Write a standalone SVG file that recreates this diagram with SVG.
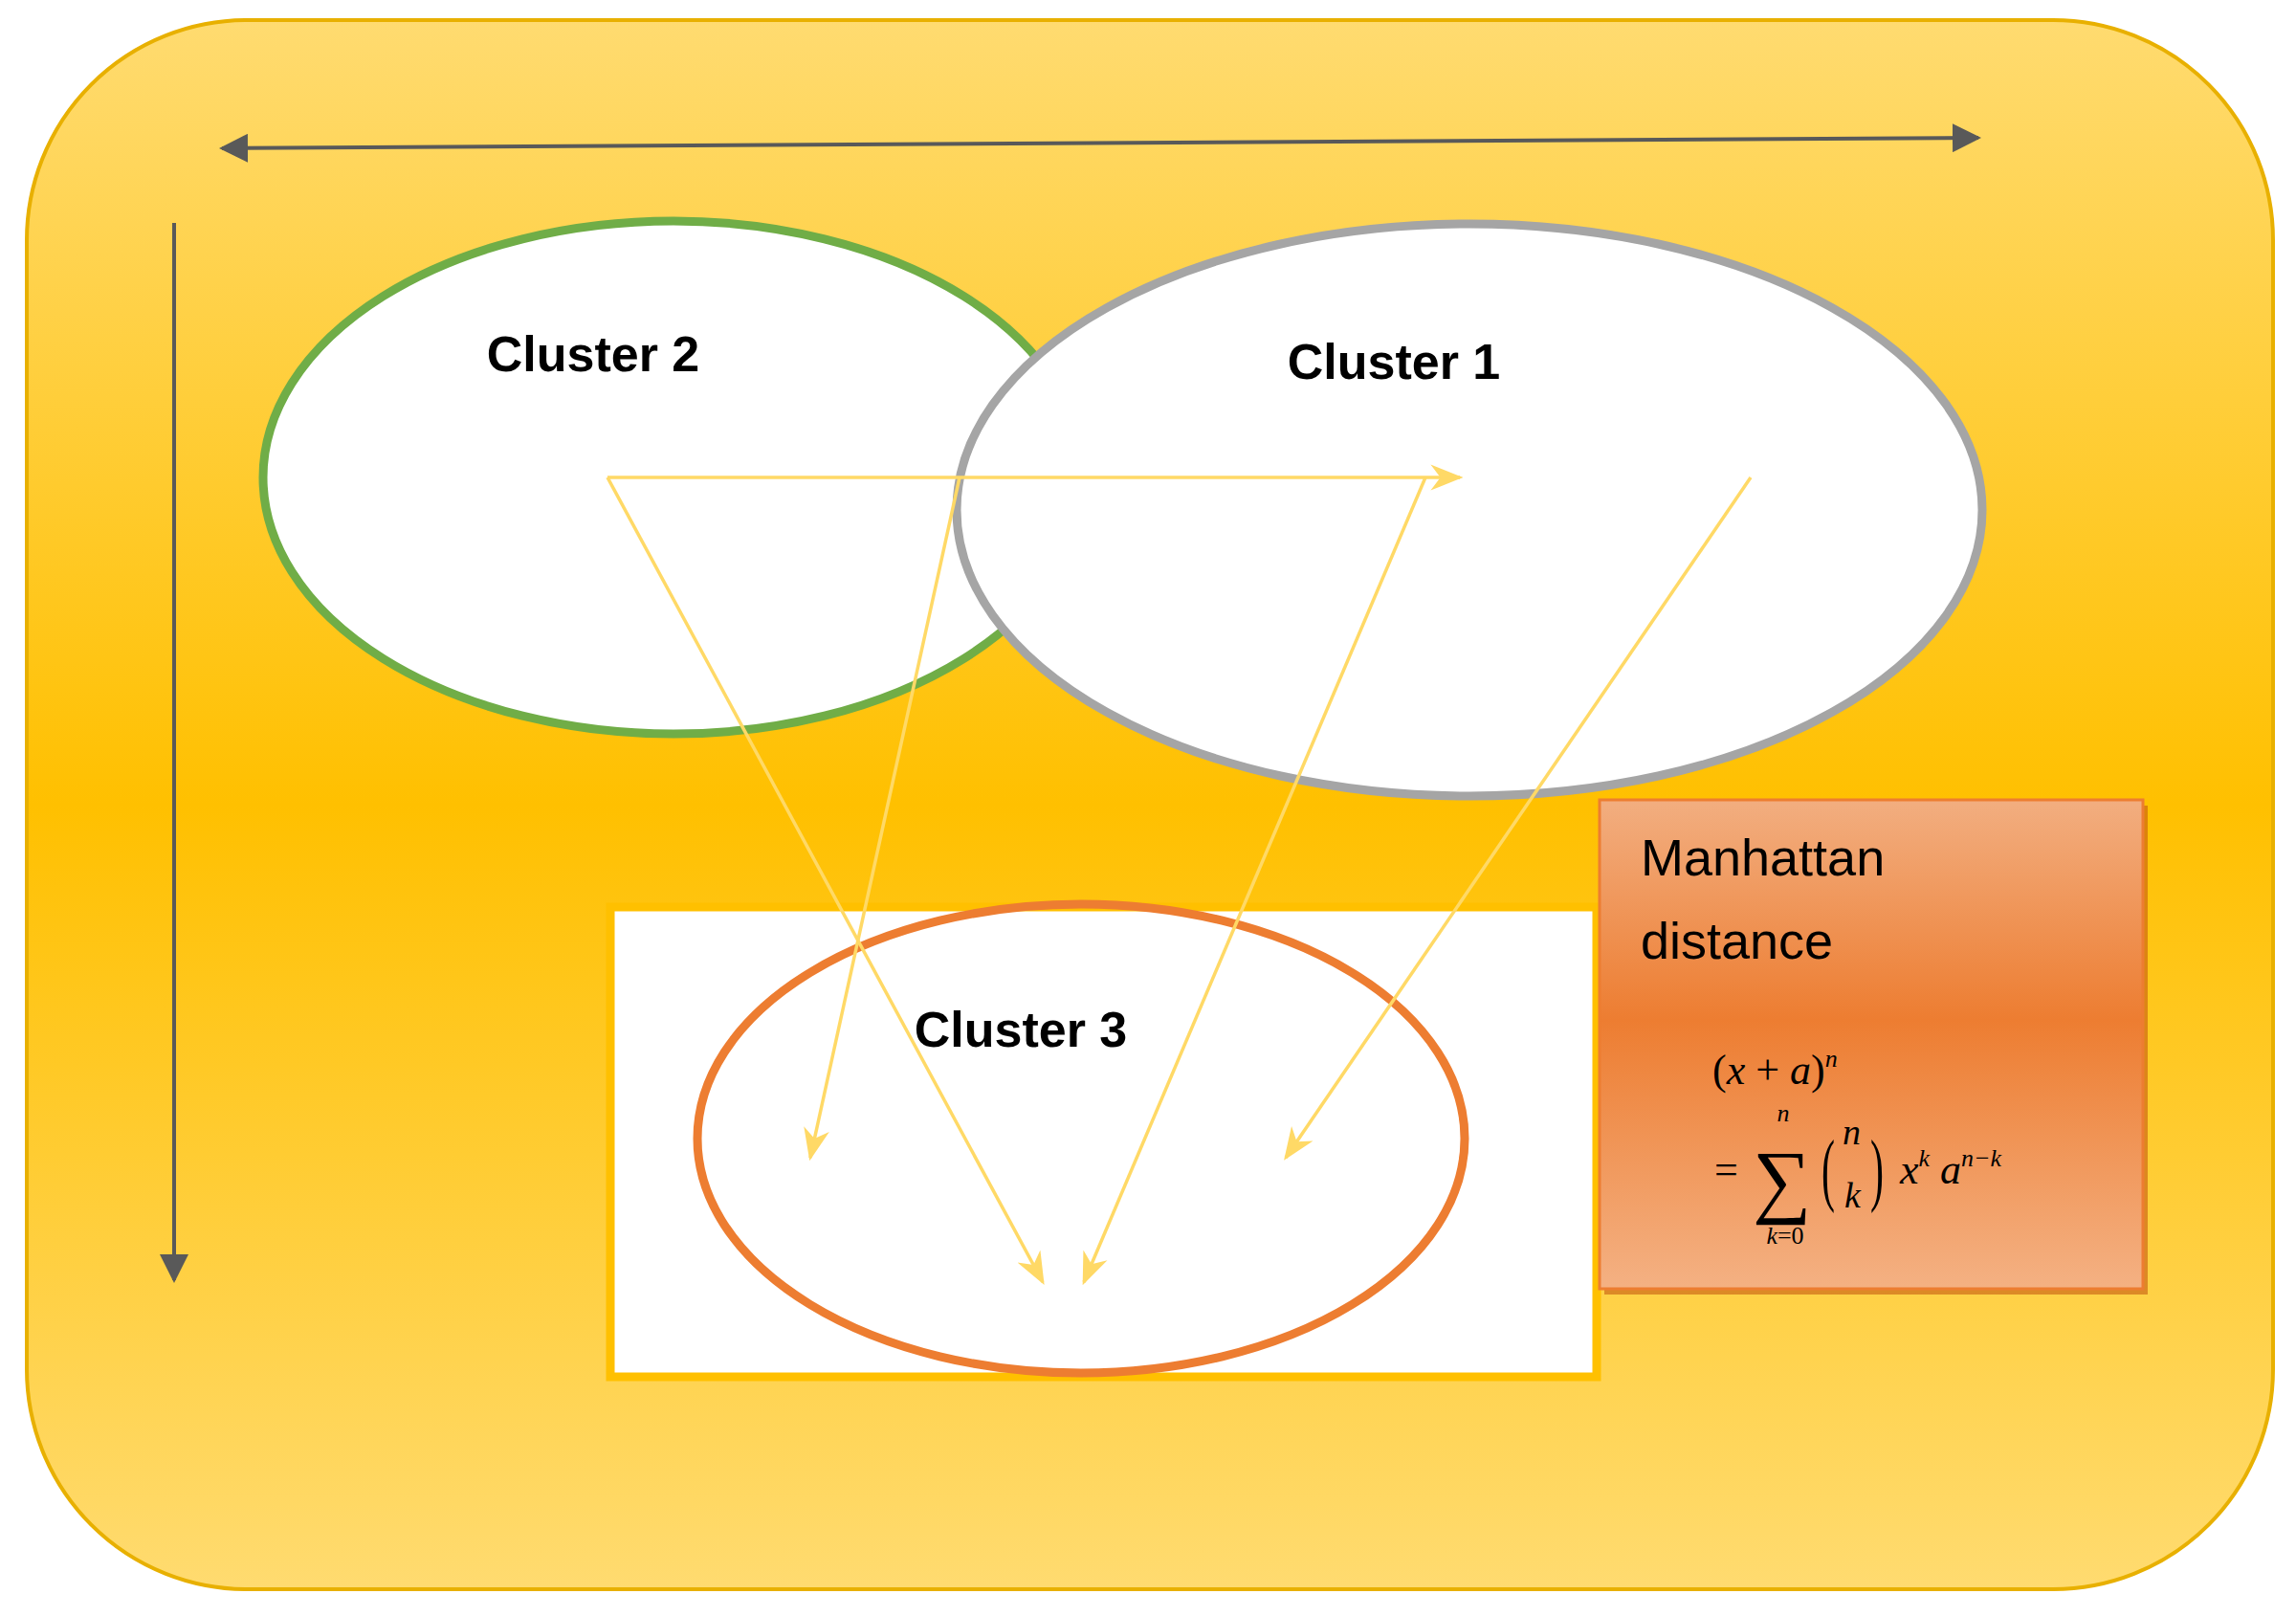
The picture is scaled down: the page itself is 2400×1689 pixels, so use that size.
<svg xmlns="http://www.w3.org/2000/svg" width="2400" height="1689" viewBox="0 0 2400 1689">
<defs>
<linearGradient id="bg" x1="0" y1="0" x2="0" y2="1"><stop offset="0" stop-color="#FFDB70"/><stop offset="0.5" stop-color="#FFC000"/><stop offset="1" stop-color="#FFDB70"/></linearGradient>
<linearGradient id="og" x1="0" y1="0" x2="0" y2="1"><stop offset="0" stop-color="#F2AE80"/><stop offset="0.45" stop-color="#ED7D31"/><stop offset="1" stop-color="#F4B183"/></linearGradient>
<marker id="ga" viewBox="0 0 10 10" refX="9" refY="5" markerWidth="30" markerHeight="30" markerUnits="userSpaceOnUse" orient="auto-start-reverse"><path d="M0,0L10,5L0,10z" fill="#595959"/></marker>
<marker id="ya" viewBox="0 0 10 10" refX="9" refY="5" markerWidth="34" markerHeight="34" markerUnits="userSpaceOnUse" orient="auto"><path d="M0,1L10,5L0,9L3,5z" fill="#FFD966"/></marker>
<style>
.lbl{font-family:"Liberation Sans",Arial,sans-serif;font-weight:bold;font-size:52px;fill:#000}
.yl{stroke:#FFD966;stroke-width:3.5;fill:none}
.m{font-family:"Liberation Serif","DejaVu Serif",serif;font-style:italic;fill:#000}
.r{font-family:"Liberation Serif","DejaVu Serif",serif;fill:#000}
</style>
</defs>
<rect x="28" y="21" width="2348" height="1640" rx="230" fill="url(#bg)" stroke="#E8B000" stroke-width="4"/>
<g id="axes">
<line x1="232" y1="155" x2="2068" y2="144" stroke="#595959" stroke-width="4" marker-start="url(#ga)" marker-end="url(#ga)"/>
<line x1="182" y1="233" x2="182" y2="1338" stroke="#595959" stroke-width="4" marker-end="url(#ga)"/>
</g>
<g id="cluster3box"><rect x="638" y="948" width="1031" height="491" fill="#fff" stroke="#FFC000" stroke-width="9"/></g>
<g id="cluster2"><ellipse cx="704" cy="499" rx="429" ry="268" fill="#fff" stroke="#70AD47" stroke-width="9"/><text class="lbl" x="620" y="388" text-anchor="middle">Cluster 2</text></g>
<g id="cluster1"><ellipse cx="1536" cy="533" rx="536" ry="299" fill="#fff" stroke="#A5A5A5" stroke-width="9"/><text class="lbl" x="1457" y="396" text-anchor="middle">Cluster 1</text></g>
<g id="cluster3"><ellipse cx="1130" cy="1190" rx="401" ry="245" fill="none" stroke="#ED7D31" stroke-width="9"/><text class="lbl" x="1067" y="1094" text-anchor="middle">Cluster 3</text></g>
<g id="manhattan">
<rect x="1677" y="842" width="568" height="511" fill="#C55A11" opacity="0.6"/>
<rect x="1672" y="836" width="568" height="511" fill="url(#og)" stroke="#ED7D31" stroke-width="3"/>
<text x="1715" y="915" font-family="Liberation Sans,Arial,sans-serif" font-size="54" fill="#000">Manhattan</text>
<text x="1715" y="1002" font-family="Liberation Sans,Arial,sans-serif" font-size="54" fill="#000">distance</text>
<text class="m" x="1790" y="1133" font-size="44"><tspan font-style="normal">(</tspan>x <tspan font-style="normal">+</tspan> a<tspan font-style="normal">)</tspan><tspan font-size="26" dy="-18">n</tspan></text>
<text class="r" x="1792" y="1237" font-size="44">=</text>
<text class="r" x="1832" y="1262" font-size="86">∑</text>
<text class="m" x="1864" y="1172" font-size="26" text-anchor="middle">n</text>
<text class="m" x="1866" y="1300" font-size="26" text-anchor="middle">k<tspan font-style="normal">=0</tspan></text>
<text class="r" x="1904" y="1250" font-size="84" transform="translate(1904,0) scale(0.5,1) translate(-1904,0)">(</text>
<text class="m" x="1926" y="1196" font-size="38">n</text>
<text class="m" x="1928" y="1262" font-size="38">k</text>
<text class="r" x="1955" y="1250" font-size="84" transform="translate(1955,0) scale(0.5,1) translate(-1955,0)">)</text>
<text class="m" x="1986" y="1237" font-size="44">x<tspan font-size="26" dy="-18">k</tspan><tspan dy="18"> a</tspan><tspan font-size="26" dy="-18">n−k</tspan></text>
</g>
<g id="connectors">
<line class="yl" x1="635" y1="499" x2="1526" y2="499" marker-end="url(#ya)"/>
<line class="yl" x1="635" y1="499" x2="1090" y2="1340" marker-end="url(#ya)"/>
<line class="yl" x1="1490" y1="499" x2="1133" y2="1340" marker-end="url(#ya)"/>
<line class="yl" x1="1003" y1="499" x2="847" y2="1210" marker-end="url(#ya)"/>
<line class="yl" x1="1830" y1="499" x2="1344" y2="1210" marker-end="url(#ya)"/>
</g>
</svg>
